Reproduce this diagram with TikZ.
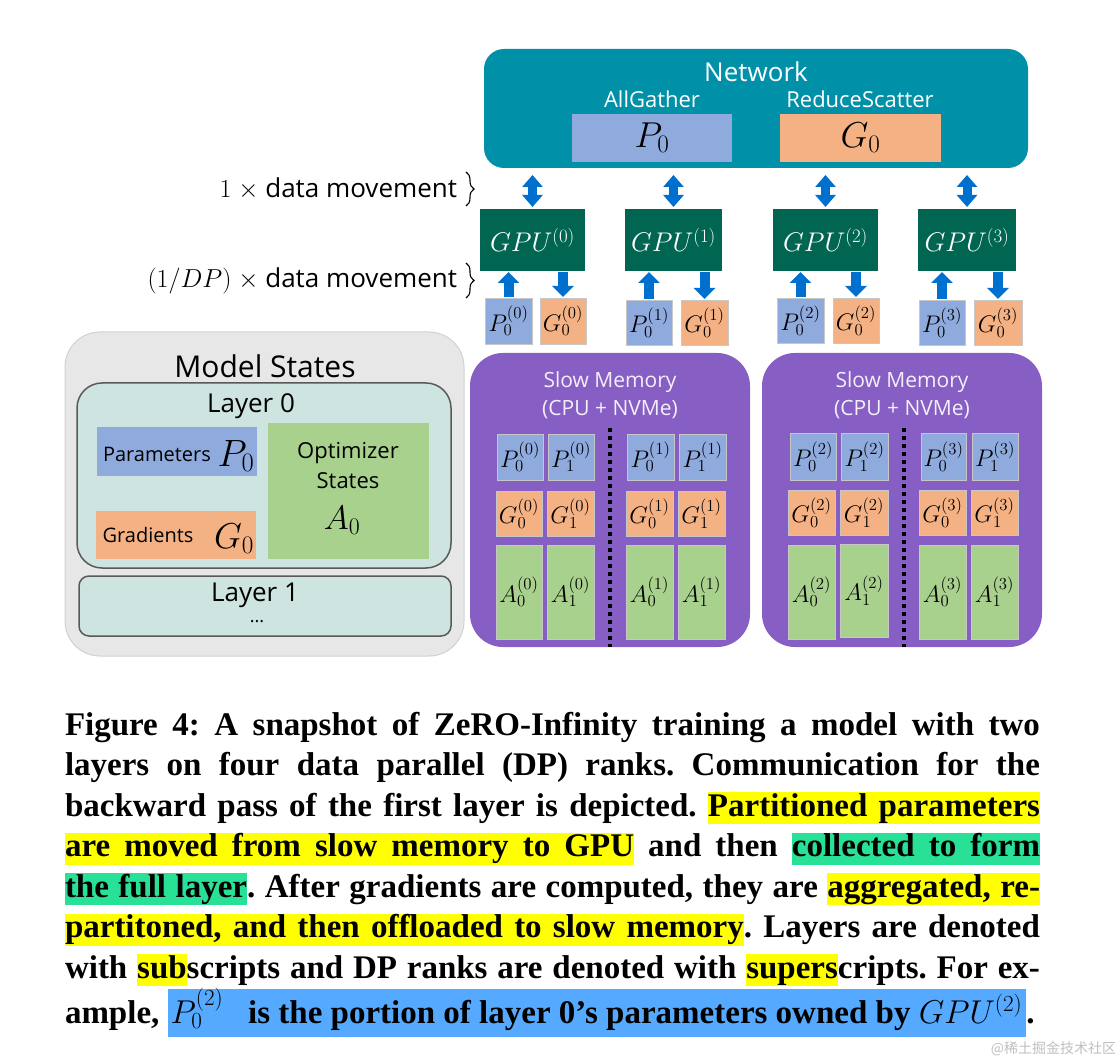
\RequirePackage{fix-cm}
\documentclass[tikz,border=0pt]{standalone}
\usepackage{fontspec}
\newfontfamily\osans{Open Sans}
\newfontfamily\cserif{Liberation Serif}
\newfontfamily\cjk{Noto Sans CJK SC}
\usetikzlibrary{arrows.meta,decorations.pathreplacing}
\definecolor{netc}{RGB}{0,145,168}
\definecolor{gpuc}{RGB}{0,102,82}
\definecolor{arrc}{RGB}{0,112,206}
\definecolor{pc}{RGB}{143,170,220}
\definecolor{gc}{RGB}{244,177,131}
\definecolor{ac}{RGB}{169,209,142}
\definecolor{memc}{RGB}{134,94,196}
\definecolor{layc}{RGB}{206,228,225}
\definecolor{msc}{RGB}{231,231,231}
\definecolor{hly}{RGB}{255,255,0}
\definecolor{hlg}{RGB}{40,224,150}
\definecolor{hlb}{RGB}{85,170,255}
\newcommand\fs[1]{\fontsize{#1}{#1}\selectfont}
% box from (x1,y1) to (x2,y2)
\newcommand\bx[7][]{\node[inner sep=0pt, minimum width={#5-#3}, minimum height={#6-#4}, #1] (#2) at ({(#3+#5)/2},{(#4+#6)/2}) {#7};}
% highlighting
\def\hlc{hly}
\newcommand\hb[1]{{\setlength{\fboxsep}{0pt}\colorbox{\hlc}{\rule[-8pt]{0pt}{32pt}#1}}}
\newcommand\hs{{\color{\hlc}\leaders\vrule height 24pt depth 8pt\hskip\fontdimen2\font plus\fontdimen3\font minus\fontdimen4\font}}
\newcommand\hw[2]{\def\hlc{#1}\hwi#2 \hwend}
\def\hwi#1 #2\hwend{\hb{#1}\ifx\relax#2\relax\else\hs\hwi#2\hwend\fi}
\tikzset{
  every node/.style={outer sep=0pt},
  netbox/.style={fill=netc, rounded corners=20pt},
  wlab/.style={text=white, inner sep=0pt},
  gpubox/.style={fill=gpuc, text=white, font=\fs{27}},
  pcell/.style={fill=pc, draw=black!22, line width=0.6pt},
  gcell/.style={fill=gc, draw=black!22, line width=0.6pt},
  acell/.style={fill=ac, draw=black!22, line width=0.6pt},
  cellf/.style={font=\fs{24}},
  dbarrow/.style={draw=arrc, line width=9pt, {Triangle[width=20pt,length=12pt]}-{Triangle[width=20pt,length=12pt]}},
  barrow/.style={draw=arrc, line width=10pt, -{Triangle[width=21pt,length=11pt]}},
  bracest/.style={decorate, decoration={brace, amplitude=8pt}, line width=1.1pt},
  msbox/.style={fill=msc, draw=black!18, line width=1pt, rounded corners=35pt},
  laybox/.style={fill=layc, draw=black!65, line width=1.5pt, rounded corners=25pt},
  membox/.style={fill=memc, rounded corners=33pt},
  memtxt/.style={text=white!90!memc, font=\osans\fs{21}, inner sep=0pt},
  sepline/.style={line width=4pt, dash pattern=on 4pt off 4pt},
  lbl/.style={inner sep=0pt},
  capl/.style={anchor=base west, inner sep=0pt, font=\cserif\bfseries\fs{33}\frenchspacing},
}
\begin{document}
\begin{tikzpicture}[x=1pt,y=-1pt]
\useasboundingbox (0,0) rectangle (1120,1064);
% ---------- Network ----------
\bx[netbox]{net}{484}{49}{1028}{168}{}
\node[wlab, font=\osans\fs{26}] (nettxt) at (756,72) {Network};
\node[wlab, font=\osans\fs{22}] (agtxt) at (652,99) {AllGather};
\node[wlab, font=\osans\fs{22}] (rstxt) at (860,99) {ReduceScatter};
\bx[fill=pc, font=\fs{36}]{netP}{572}{114}{732}{162}{$P_0$}
\bx[fill=gc, font=\fs{36}]{netG}{780}{114}{941}{162}{$G_0$}
% ---------- GPUs ----------
\bx[gpubox]{gpu0}{480}{209}{585}{271}{$GPU^{(0)}$}
\bx[gpubox]{gpu1}{625}{209}{722}{271}{$GPU^{(1)}$}
\bx[gpubox]{gpu2}{773}{209}{878}{271}{$GPU^{(2)}$}
\bx[gpubox]{gpu3}{918}{209}{1016}{271}{$GPU^{(3)}$}
% ---------- small partitions ----------
\bx[pcell,cellf]{p0}{485}{298}{532}{344}{$P_0^{(0)}$}
\bx[gcell,cellf]{g0}{540}{298}{586}{344}{$G_0^{(0)}$}
\bx[pcell,cellf]{p1}{626}{300}{672}{345}{$P_0^{(1)}$}
\bx[gcell,cellf]{g1}{681}{300}{728}{345}{$G_0^{(1)}$}
\bx[pcell,cellf]{p2}{777}{298}{824}{343}{$P_0^{(2)}$}
\bx[gcell,cellf]{g2}{833}{298}{879}{343}{$G_0^{(2)}$}
\bx[pcell,cellf]{p3}{919}{300}{965}{345}{$P_0^{(3)}$}
\bx[gcell,cellf]{g3}{974}{300}{1022}{345}{$G_0^{(3)}$}
% ---------- arrows ----------
\foreach \i in {0,1,2,3}{
  \draw[dbarrow, shorten <=7pt, shorten >=2pt] (gpu\i.north |- net.south) -- (gpu\i.north);
  \draw[barrow, shorten <=1pt, shorten >=1pt] (p\i.north) -- (p\i.north |- gpu\i.south);
  \draw[barrow, shorten <=1pt, shorten >=1pt] (g\i.north |- gpu\i.south) -- (g\i.north);
}
% ---------- braces and labels ----------
\coordinate (b1t) at (466,172); \coordinate (b1b) at (466,206);
\coordinate (b2t) at (466,263); \coordinate (b2b) at (466,298);
\draw[bracest] (b1t) -- (b1b);
\draw[bracest] (b2t) -- (b2b);
\node[lbl, anchor=east, font=\osans\fs{26}] (lab1) at (457,189) {$1$ $\times$ data movement};
\node[lbl, anchor=east, font=\osans\fs{26}] (lab2) at (457,281) {$(1/DP)$ $\times$ data movement};
% ---------- Model states ----------
\bx[msbox]{ms}{65}{332}{464}{656}{}
\node[lbl, font=\osans\fs{30}] (mstxt) at (265,366) {Model States};
\bx[laybox]{l0}{77}{383}{451}{568}{}
\node[lbl, font=\osans\fs{26}] (l0txt) at (251,406) {Layer 0};
\bx[fill=pc]{par}{97}{427}{257}{476}{}
\node[lbl, font=\osans\fs{20}] (partxt) at (157,454) {Parameters};
\node[lbl, font=\fs{38}] (parP) at (236,456) {$P_0$};
\bx[fill=gc]{grd}{96}{511}{256}{559}{}
\node[lbl, font=\osans\fs{20}] (grdtxt) at (148,535) {Gradients};
\node[lbl, font=\fs{36}] (grdG) at (234,539) {$G_0$};
\bx[fill=ac]{opt}{268}{423}{429}{559}{}
\node[lbl, font=\osans\fs{22}] (opt1) at (348,453) {Optimizer};
\node[lbl, font=\osans\fs{22}] (opt2) at (348,481) {States};
\node[lbl, font=\fs{34}] (optA) at (342,520) {$A_0$};
\bx[laybox, rounded corners=10pt]{l1}{79}{576}{451}{636}{}
\node[lbl, font=\osans\fs{26}] (l1txt) at (255,595) {Layer 1};
\node[lbl, font=\osans\fs{18}] (dots) at (257,622) {...};
% ---------- Slow memory ----------
\bx[membox]{mem0}{470}{353}{750}{647}{}
\bx[membox]{mem1}{762}{353}{1042}{647}{}
\node[memtxt] (m0a) at (610,382) {Slow Memory};
\node[memtxt] (m0b) at (610,410) {(CPU + NVMe)};
\node[memtxt] (m1a) at (902,382) {Slow Memory};
\node[memtxt] (m1b) at (902,410) {(CPU + NVMe)};
\coordinate (d0) at (610,428); \coordinate (d1) at (904,428);
\draw[sepline] (d0) -- (d0 |- mem0.south);
\draw[sepline] (d1) -- (d1 |- mem1.south);
% left memory cells
\bx[pcell,cellf]{s0p00}{497}{434}{543}{480}{$P_0^{(0)}$}
\bx[pcell,cellf]{s0p10}{548}{434}{594}{480}{$P_1^{(0)}$}
\bx[pcell,cellf]{s0p01}{627}{434}{674}{480}{$P_0^{(1)}$}
\bx[pcell,cellf]{s0p11}{679}{434}{726}{480}{$P_1^{(1)}$}
\bx[gcell,cellf]{s0g00}{496}{491}{542}{536}{$G_0^{(0)}$}
\bx[gcell,cellf]{s0g10}{547}{491}{594}{536}{$G_1^{(0)}$}
\bx[gcell,cellf]{s0g01}{626}{491}{673}{536}{$G_0^{(1)}$}
\bx[gcell,cellf]{s0g11}{678}{491}{725}{536}{$G_1^{(1)}$}
\bx[acell,cellf]{s0a00}{496}{545}{542}{639}{$A_0^{(0)}$}
\bx[acell,cellf]{s0a10}{547}{545}{594}{639}{$A_1^{(0)}$}
\bx[acell,cellf]{s0a01}{626}{545}{673}{639}{$A_0^{(1)}$}
\bx[acell,cellf]{s0a11}{678}{545}{725}{639}{$A_1^{(1)}$}
% right memory cells
\bx[pcell,cellf]{s1p02}{790}{433}{836}{480}{$P_0^{(2)}$}
\bx[pcell,cellf]{s1p12}{841}{433}{888}{480}{$P_1^{(2)}$}
\bx[pcell,cellf]{s1p03}{921}{433}{966}{480}{$P_0^{(3)}$}
\bx[pcell,cellf]{s1p13}{972}{433}{1018}{480}{$P_1^{(3)}$}
\bx[gcell,cellf]{s1g02}{788}{490}{835}{535}{$G_0^{(2)}$}
\bx[gcell,cellf]{s1g12}{840}{490}{888}{535}{$G_1^{(2)}$}
\bx[gcell,cellf]{s1g03}{919}{490}{966}{535}{$G_0^{(3)}$}
\bx[gcell,cellf]{s1g13}{971}{490}{1018}{535}{$G_1^{(3)}$}
\bx[acell,cellf]{s1a02}{788}{545}{835}{639}{$A_0^{(2)}$}
\bx[acell,cellf]{s1a12}{840}{544}{888}{637}{$A_1^{(2)}$}
\bx[acell,cellf]{s1a03}{919}{545}{966}{639}{$A_0^{(3)}$}
\bx[acell,cellf]{s1a13}{971}{545}{1018}{639}{$A_1^{(3)}$}
% ---------- Caption ----------
\node[capl] (c1) at (65,735) {\makebox[975pt][s]{Figure 4: A snapshot of ZeRO-Infinity training a model with two}};
\node[capl] (c2) at (65,775.5) {\makebox[975pt][s]{layers on four data parallel (DP) ranks. Communication for the}};
\node[capl] (c3) at (65,816) {\makebox[975pt][s]{backward pass of the first layer is depicted. \hw{hly}{Partitioned parameters}}};
\node[capl] (c4) at (65,856.5) {\makebox[975pt][s]{\hw{hly}{are moved from slow memory to GPU} and then \hw{hlg}{collected to form}}};
\node[capl] (c5) at (65,897) {\makebox[975pt][s]{\hw{hlg}{the full layer}. After gradients are computed, they are \hw{hly}{aggregated, re-}}};
\node[capl] (c6) at (65,937.5) {\makebox[975pt][s]{\hw{hly}{partitoned, and then offloaded to slow memory}. Layers are denoted}};
\node[capl] (c7) at (65,978) {\makebox[975pt][s]{with \hw{hly}{sub}scripts and DP ranks are denoted with \hw{hly}{supers}cripts. For ex-}};
\node[capl] (c8) at (65,1023) {ample, {\setlength{\fboxsep}{0pt}\colorbox{hlb}{\rule[-14pt]{0pt}{47pt}\hspace{3pt}$P_0^{(2)}$\ \ \ is the portion of layer 0’s parameters owned by $GPU^{(2)}$\hspace{4pt}}}.};
\node[anchor=east, inner sep=0pt, text=black!25, font=\cjk\fs{14}] (wm) at (1116,1049) {@稀土掘金技术社区};
\end{tikzpicture}
\end{document}
